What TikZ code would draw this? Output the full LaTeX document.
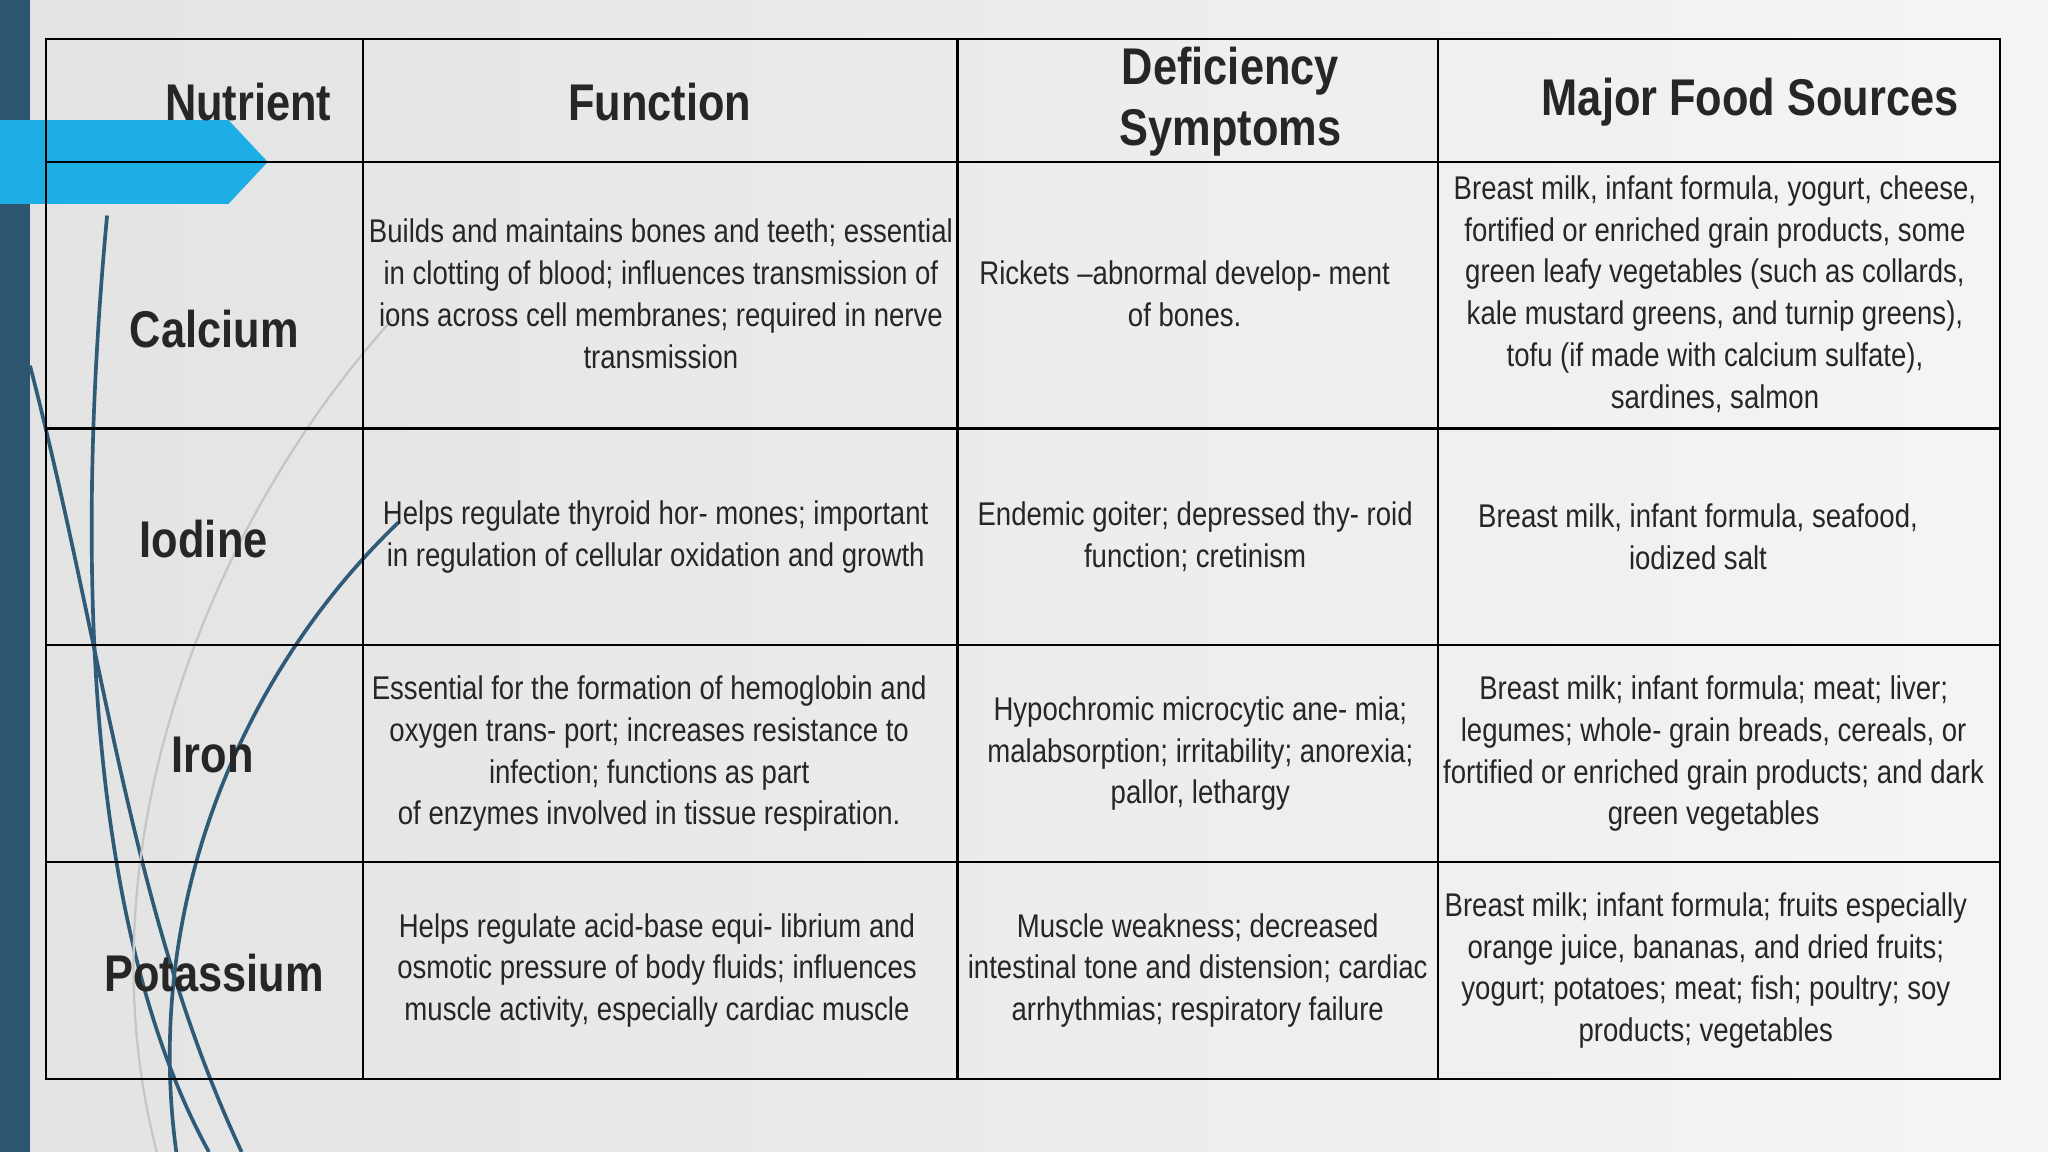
\documentclass[tikz,border=0pt]{standalone}
\usepackage{fontspec}
\setmainfont[FakeStretch=0.84]{Liberation Sans}
\definecolor{strip}{HTML}{2E5570}
\definecolor{arrowc}{HTML}{1EAEE6}
\definecolor{decoc}{HTML}{2F5A78}
\begin{document}
\begin{tikzpicture}[x=0.02cm,y=-0.02cm,
  cell/.style={align=center,font=\fontsize{14.3}{18.2}\selectfont,text=black!85},
  hdr/.style={align=center,font=\fontsize{22.5}{26.5}\selectfont\bfseries,text=black!85},
  nut/.style={font=\fontsize{22.5}{26}\selectfont\bfseries,text=black!85},
  deco/.style={draw=decoc,line width=1.6pt}]
\useasboundingbox (0,0) rectangle (1568,882);
\shade[left color=gray!22,right color=gray!8] (0,0) rectangle (1568,882);
\fill[strip] (0,0) rectangle (23,882);
% decorative curves
\draw[deco] (82,165) .. controls (60,400) and (60,700) .. (160,882);
\draw[deco] (23,280) .. controls (80,500) and (100,700) .. (185,882);
\draw[deco] (305,400) .. controls (180,520) and (110,700) .. (135,882);
\draw[draw=gray!45,line width=1pt] (300,245) .. controls (160,400) and (60,650) .. (120,882);
\fill[arrowc] (0,92) -- (175,92) -- (205,124) -- (175,156) -- (0,156) -- cycle;
% grid
\draw[line width=1pt] (35,30) rectangle (1531,826);
\foreach \x in {278,733,1101} \draw[line width=1pt] (\x,30) -- (\x,826);
\foreach \y in {124,328,494,660} \draw[line width=1pt] (35,\y) -- (1531,\y);
% header
\node[hdr] (h1) at (190,78) {Nutrient};
\node[hdr] (h2) at (505,78) {Function};
\node[hdr] (h3) at (942,78) {Deficiency\\Symptoms};
\node[hdr] (h4) at (1340,78) {Major Food Sources};
% nutrients
\node[nut] (n1) at (164,252) {Calcium};
\node[nut] (n2) at (156,413) {Iodine};
\node[nut] (n3) at (163,578) {Iron};
\node[nut] (n4) at (164,745) {Potassium};
% functions
\node[cell] (f1) at (506,225) {Builds and maintains bones and teeth; essential\\in clotting of blood; influences transmission of\\ions across cell membranes; required in nerve\\transmission};
\node[cell] (f2) at (502,411) {Helps regulate thyroid hor- mones; important\\in regulation of cellular oxidation and growth};
\node[cell] (f3) at (497,577) {Essential for the formation of hemoglobin and\\oxygen trans- port; increases resistance to\\infection; functions as part\\of enzymes involved in tissue respiration.};
\node[cell] (f4) at (503,743) {Helps regulate acid-base equi- librium and\\osmotic pressure of body fluids; influences\\muscle activity, especially cardiac muscle};
% deficiency
\node[cell] (d1) at (907,225) {Rickets --abnormal develop- ment\\of bones.};
\node[cell] (d2) at (915,411) {Endemic goiter; depressed thy- roid\\function; cretinism};
\node[cell] (d3) at (919,577) {Hypochromic microcytic ane- mia;\\malabsorption; irritability; anorexia;\\pallor, lethargy};
\node[cell] (d4) at (917,743) {Muscle weakness; decreased\\intestinal tone and distension; cardiac\\arrhythmias; respiratory failure};
% sources
\node[cell] (s1) at (1313,225) {Breast milk, infant formula, yogurt, cheese,\\fortified or enriched grain products, some\\green leafy vegetables (such as collards,\\kale mustard greens, and turnip greens),\\tofu (if made with calcium sulfate),\\sardines, salmon};
\node[cell] (s2) at (1300,411) {Breast milk, infant formula, seafood,\\iodized salt};
\node[cell] (s3) at (1312,577) {Breast milk; infant formula; meat; liver;\\legumes; whole- grain breads, cereals, or\\fortified or enriched grain products; and dark\\green vegetables};
\node[cell] (s4) at (1306,743) {Breast milk; infant formula; fruits especially\\orange juice, bananas, and dried fruits;\\yogurt; potatoes; meat; fish; poultry; soy\\products; vegetables};
\end{tikzpicture}
\end{document}
